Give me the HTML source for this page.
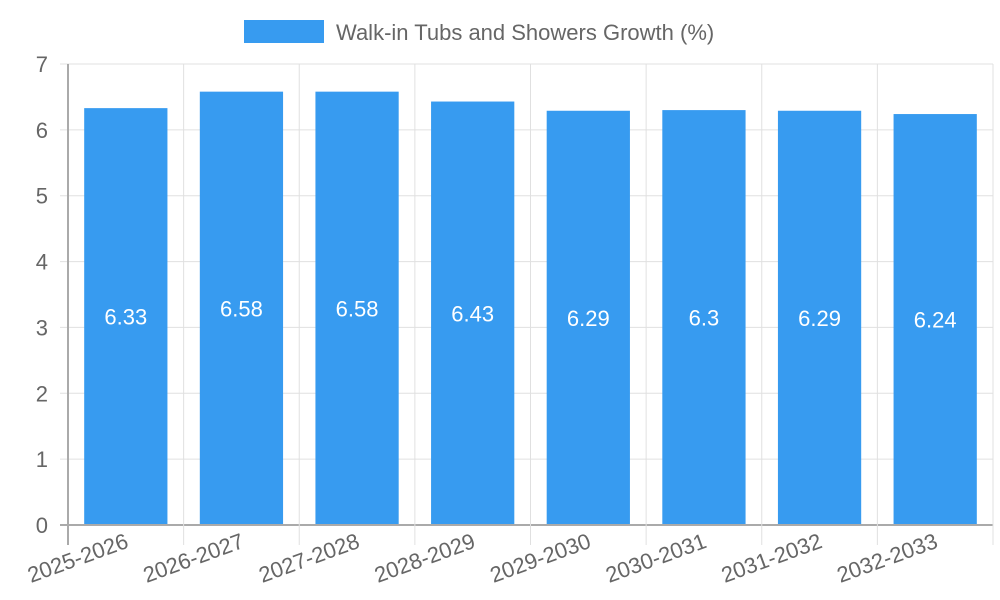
<!DOCTYPE html>
<html><head><meta charset="utf-8"><style>
body{margin:0;background:#fff;font-family:"Liberation Sans",sans-serif}
svg{display:block}
</style></head><body>
<svg id="chart" width="1000" height="600">
<g>
<rect x="244" y="20" width="80" height="23" fill="#379bf0"/>
<text x="336" y="40" font-size="22" fill="#666">Walk-in Tubs and Showers Growth (%)</text>
</g>
</svg>
<script>
const categories=["2025-2026","2026-2027","2027-2028","2028-2029","2029-2030","2030-2031","2031-2032","2032-2033"];
const values=[6.33,6.58,6.58,6.43,6.29,6.3,6.29,6.24];
const yTicks=[0,1,2,3,4,5,6,7];
const svg=document.getElementById('chart');
const NS='http://www.w3.org/2000/svg';
const L=68,R=993,T=64,B=525,yMax=7;
const bw=(R-L)/categories.length;
const y=v=>B-(v/yMax)*(B-T);
const x=i=>L+i*bw;
function mk(t,a){const e=document.createElementNS(NS,t);for(const k in a)e.setAttribute(k,a[k]);svg.appendChild(e);return e;}
yTicks.forEach(t=>{
 const g=mk('line',{x1:L-8,x2:R,y1:y(t),y2:y(t),stroke:t===0?'#aaa':'#e0e0e0','stroke-width':t===0?2:1});
 
 
 const tx=mk('text',{x:L-20,y:y(t)+8,'font-size':22,fill:'#666','text-anchor':'end'});
 tx.textContent=t;
 
 
});
for(let i=0;i<=categories.length;i++){
 const g=mk('line',{x1:x(i),x2:x(i),y1:T,y2:B+20,stroke:i===0?'#aaa':'#e0e0e0','stroke-width':i===0?2:1});
 
 
}
categories.forEach((c,i)=>{
 const bx=x(i)+bw*0.14,w=bw*0.72;
 const r=mk('rect',{x:bx,y:y(values[i]),width:w,height:B-1-y(values[i]),fill:'#379bf0'});
 
 
 const v=mk('text',{x:bx+w/2,y:(y(values[i])+B)/2+8,'font-size':22,fill:'#fff','text-anchor':'middle'});
 v.textContent=values[i];
 
 
 const cx=x(i)+bw/2+4,cy=B+22;
 const l=mk('text',{x:cx,y:cy,'font-size':22,fill:'#666','text-anchor':'end',transform:`rotate(-20 ${cx} ${cy})`});
 l.textContent=c;
 
 
});
</script>
</body></html>
